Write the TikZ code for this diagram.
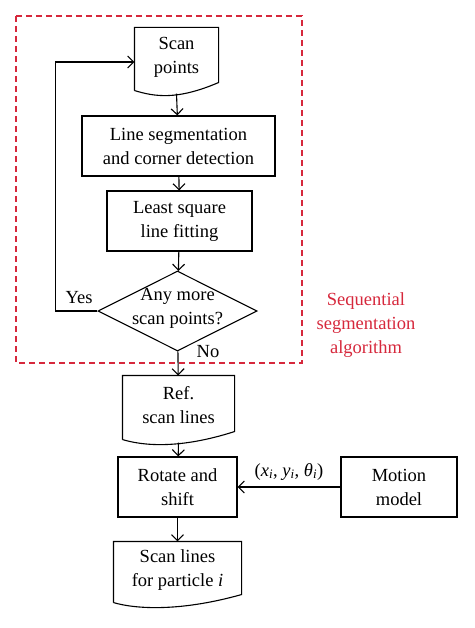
\documentclass[tikz,border=0pt]{standalone}
\usepackage{fontspec}
\setmainfont{Liberation Serif}
\usetikzlibrary{shapes.geometric,arrows.meta}
\definecolor{algored}{RGB}{214,40,60}

% document shape drawn round a named node
\newcommand\docframe[1]{%
  \draw ([yshift=-4pt]#1.south west) -- (#1.north west) -- (#1.north east)
    -- ([yshift=4pt]#1.south east)
    .. controls ([yshift=-14pt]#1.south) and ([xshift=20pt,yshift=-10pt]#1.south west)
    .. ([yshift=-4pt]#1.south west);}

\begin{document}
\begin{tikzpicture}[x=1pt,y=-1pt,line width=1.1pt,
    >={Straight Barb[length=6pt,width=12pt]},
    every node/.style={font=\fontsize{18.5}{24}\selectfont,align=center}]
  \useasboundingbox (0,0) rectangle (474,628);

  \begin{scope}[every node/.append style={inner sep=0pt}]
    \node[minimum width=83pt,minimum height=58pt] (scan) at (176.5,57) {Scan\\points};
    \node[draw,minimum width=193pt,minimum height=60pt] (lineseg) at (178.5,146) {Line segmentation\\and corner detection};
    \node[draw,minimum width=145pt,minimum height=60pt] (lsq) at (179.5,221) {Least square\\line fitting};
    \node[draw,diamond,minimum width=159pt,minimum height=80pt,
      label={[align=center,yshift=3pt]center:Any more\\scan points?}] (more) at (177.5,311) {};
    \node[minimum width=111pt,minimum height=59pt] (ref) at (178.5,405.5) {Ref.\\scan lines};
    \node[draw,minimum width=119pt,minimum height=60pt] (rotate) at (177.5,487) {Rotate and\\shift};
    \node[draw,minimum width=116pt,minimum height=60pt] (motion) at (399,487) {Motion\\model};
    \node[minimum width=127pt,minimum height=56pt] (particle) at (177.5,570) {Scan lines\\for particle \textit{i}};
  \end{scope}

  \docframe{scan}
  \docframe{ref}
  \docframe{particle}

  \node (yes) at (79,298) {Yes};
  \node (no) at (208,352) {No};

  \begin{scope}[every edge/.style={draw,->}]
    \path ([yshift=-7pt]scan.south) edge (lineseg);
    \path (lineseg) edge (lsq);
    \path (lsq) edge (more);
    \path (more) edge (ref);
    \path ([yshift=-7pt]ref.south) edge (rotate);
    \path (rotate) edge (particle.north);
    \path (motion) edge node[above=3pt]
      {(\textit{x\textsubscript{i}}, \textit{y\textsubscript{i}}, \textit{θ\textsubscript{i}})} (rotate);
  \end{scope}
  \draw[->] (more.west) -- ++(-42,0) |- ([yshift=-5pt]scan.west);

  % dashed frame of the segmentation part
  \draw[algored,dash pattern=on 6pt off 4pt] (16,16) rectangle (302,363);
  \node[text=algored] (seq) at (366,325) {Sequential\\segmentation\\algorithm};

\end{tikzpicture}
\end{document}
